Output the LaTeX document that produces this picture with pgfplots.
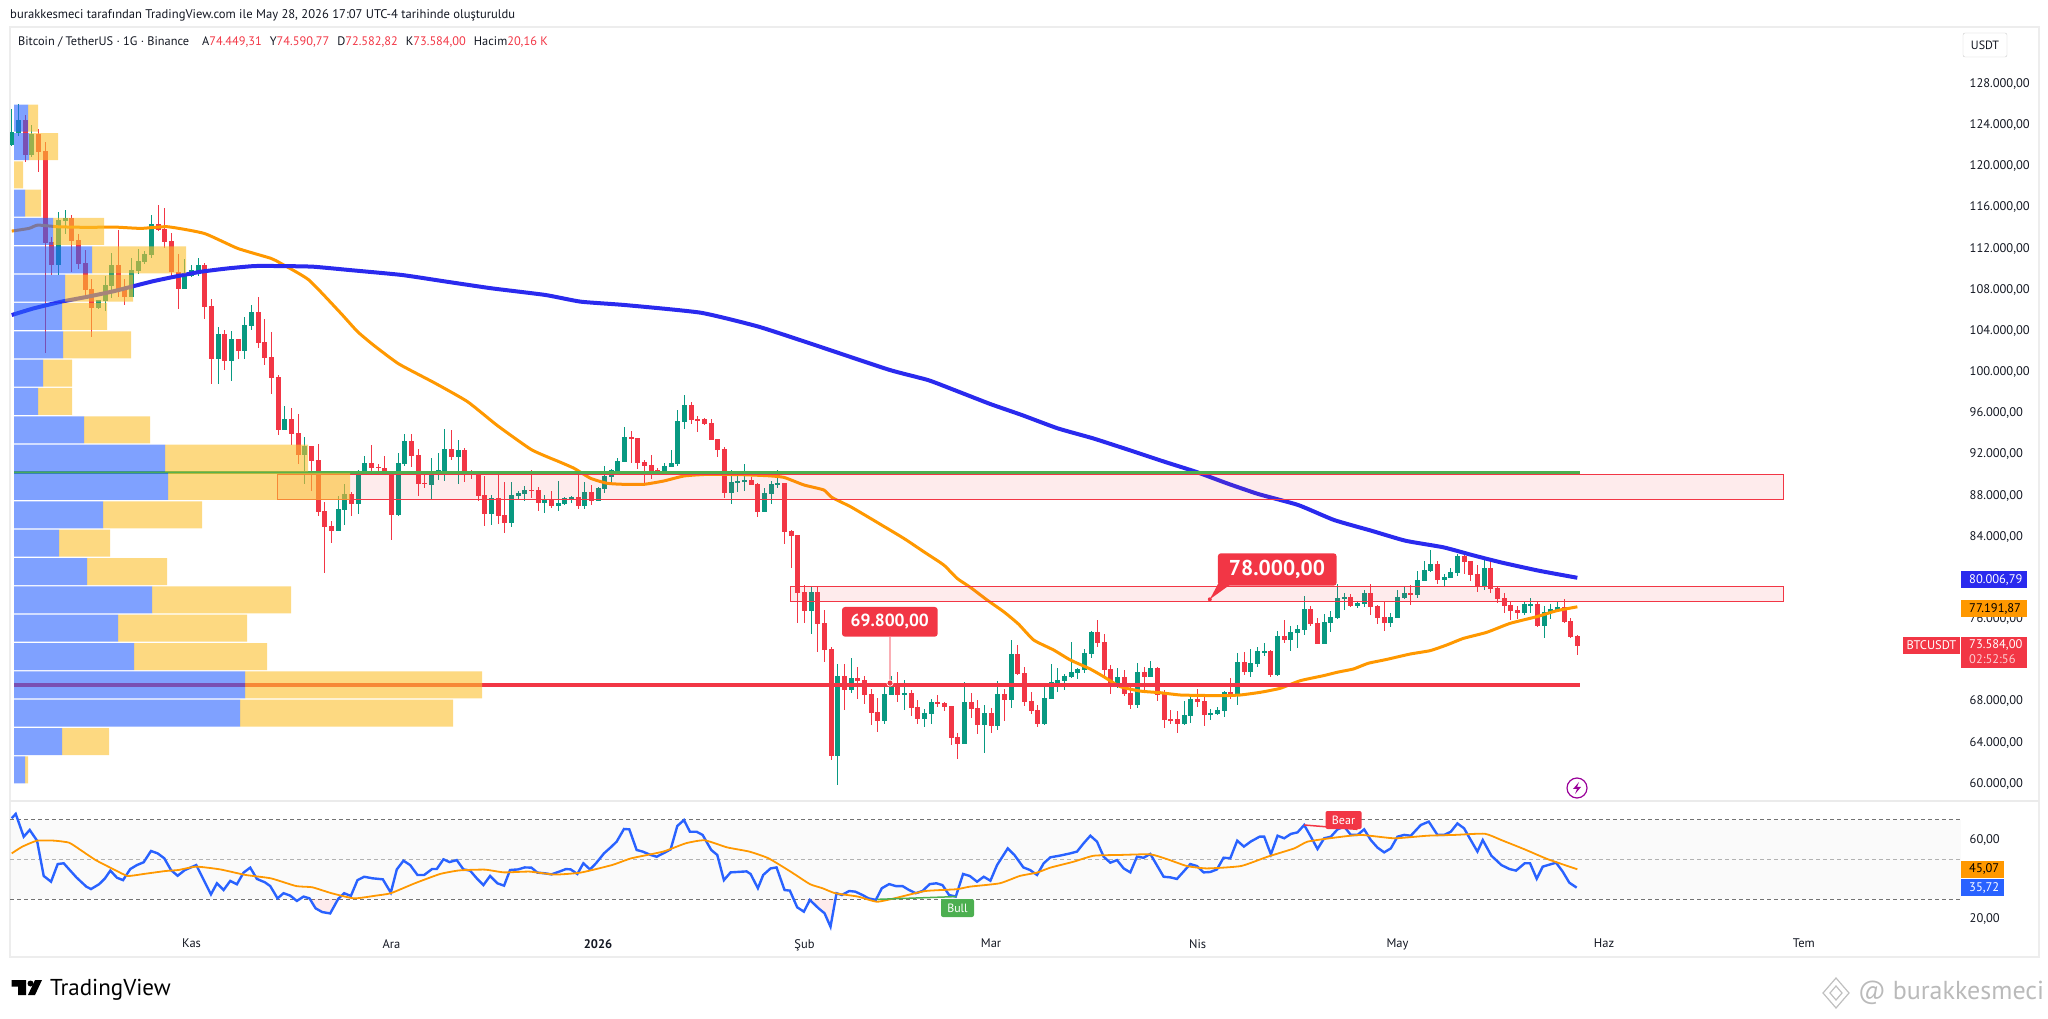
\documentclass[border=0pt]{standalone}
\usepackage{pgfplots}
\usepackage{pgfplotstable}
\usepackage{fontspec}
\pgfplotsset{compat=1.18}
\setmainfont{PT Sans}
\definecolor{cgreen}{HTML}{089981}
\definecolor{cred}{HTML}{F23645}
\definecolor{maor}{HTML}{FF9800}
\definecolor{mabl}{HTML}{2A2AEE}
\definecolor{rsibl}{HTML}{2962FF}
\definecolor{vpb}{RGB}{41,98,255}
\definecolor{vpo}{RGB}{251,192,45}
\definecolor{lgreen}{HTML}{4CAF50}
\definecolor{txt}{HTML}{131722}
\pgfplotstableread{
d o h l c
-88 122060 125560 121960 123320
-87 123260 126040 122930 124490
-86 124490 124970 120410 121090
-85 121090 124000 120890 123130
-84 123130 123610 119430 121380
-83 121470 122350 101850 112530
-82 112630 113120 109430 110400
-81 110400 115550 109430 114770
-80 114670 115740 113410 114960
-79 114960 115250 109720 112730
-78 112830 113410 110010 110490
-77 110590 111850 107390 107970
-76 108070 109040 103400 106220
-75 106220 107000 106120 107000
-74 106900 109330 105930 108450
-73 108360 111560 107190 110400
-72 110400 113800 107290 108070
-71 108160 109040 106510 107290
-70 107290 111080 107290 109910
-69 109810 111950 109520 110790
-68 110690 111760 110490 111470
-67 111370 115250 111080 114380
-66 114380 116230 113700 113800
-65 113900 115940 112050 112630
-64 112730 113510 109040 109720
-63 109720 111470 106120 108070
-62 108070 110980 108070 109430
-61 109330 110400 109230 109910
-60 109810 111080 109330 110400
-59 110400 110590 105150 106320
-58 106410 107090 98830 101260
-57 101260 104370 98830 103690
-56 103690 104080 100190 101070
-55 101070 103980 99120 103210
-54 103210 103210 101260 102040
-53 102040 105340 101260 104570
-52 104470 106510 104080 105830
-51 105830 107290 102330 102820
-50 102910 105150 100680 101360
-49 101460 103890 97860 99420
-48 99520 99720 93890 94370
-47 94370 96710 94370 95440
-46 95440 96510 92920 93990
-45 94080 95930 91070 91950
-44 91950 93690 89130 92820
-43 92820 92820 88450 91360
-42 91460 93010 86020 86410
-41 86500 87380 80480 84950
-40 85050 85530 83390 84560
-39 84560 87960 84560 86700
-38 86600 89130 85140 88160
-37 88160 88350 86020 87180
-36 87180 90490 86210 90000
-35 90000 91850 90000 91170
-34 91170 92920 90390 90680
-33 90780 91070 90390 90680
-32 90680 91850 90000 90160
-31 90160 90330 83690 86110
-30 86110 92140 86020 91170
-29 91070 93990 90880 93310
-28 93310 93990 90780 91850
-27 91950 92530 87960 89130
-26 89220 90000 88740 89130
-25 89030 91650 87670 90000
-24 90000 92140 89520 90490
-23 90360 94470 89420 92530
-22 92530 94370 91460 91750
-21 91750 93400 89130 92430
-20 92430 92630 89320 90290
-19 90360 90490 89610 90230
-18 90160 90260 87480 87960
-17 88060 89900 85050 86210
-16 86210 88060 85140 87770
-15 87770 90100 85240 86020
-14 86110 89320 84370 85340
-13 85340 89320 84950 88060
-12 87960 88450 87670 88250
-11 88160 88930 87480 88540
-10 88540 90490 87770 88450
-9 88540 88840 86500 87280
-8 87280 88060 86310 87570
-7 87630 88440 86790 86990
-6 86990 89400 86500 87280
-5 87180 87860 87080 87760
-4 87760 87960 87280 87860
-3 87860 90100 86700 86990
-2 86990 89320 86700 88350
-1 88350 89030 87080 87470
0 87470 88830 87470 88740
1 88640 90870 88250 89900
2 89800 90580 89220 90480
3 90160 91650 90160 91360
4 91260 94660 91260 93690
5 93690 94270 91160 93500
6 93590 93590 90580 91160
7 91260 91460 89220 90870
8 90970 91940 89610 90260
9 90480 90680 90060 90160
10 90320 91160 90230 90870
11 90780 92430 90780 91160
12 91070 96310 90870 95250
13 95150 97770 94470 96800
14 96800 97090 94950 95340
15 95440 95730 94180 95340
16 95440 95540 94860 94950
17 95050 95440 93400 93400
18 93500 93500 91750 92430
19 92530 92720 87760 88250
20 88250 90480 87180 89320
21 89290 90100 88350 89400
22 89400 91070 88440 89510
23 89510 89800 89030 89030
24 89120 89220 85920 86400
25 86400 88740 86400 88250
26 88150 89400 87180 89120
27 89120 90480 88740 89220
28 89220 89220 83290 84460
29 84560 84650 80960 84070
30 84160 84160 75610 78530
31 78630 79310 75610 76780
32 76780 79110 74540 78630
33 78630 79110 72800 75520
34 75610 76880 71820 73000
35 73090 73280 62300 62690
36 62690 71630 59870 70460
37 70460 71630 67160 69100
38 69100 72210 68810 70270
39 70270 71340 68230 69980
40 70070 70460 67740 68620
41 68710 69200 65700 66870
42 66960 68320 65020 66090
43 66090 69490 65800 68710
44 68620 70460 68620 69390
45 69390 70850 67940 68620
46 68710 70070 67160 68810
47 68810 69100 66580 67350
48 67450 68130 65800 66280
49 66280 67260 65510 66870
50 66770 68230 65800 67940
51 67940 68620 67450 67840
52 67840 67940 67060 67450
53 67550 67550 63760 64440
54 64540 64920 62400 63860
55 63860 69880 63860 67940
56 67940 68810 66380 67260
57 67350 68130 64830 65700
58 65700 67640 62980 66870
59 66870 67350 64920 65600
60 65600 69980 65220 68710
61 68710 69200 66090 68130
62 68130 73960 67350 72600
63 72600 73480 70560 70660
64 70750 71340 67550 67940
65 68030 68910 66770 67060
66 67160 67640 65510 65800
67 65800 69590 65700 68320
68 68230 71630 68230 69880
69 69780 71240 68910 70070
70 69980 70660 69100 70460
71 70370 73770 70270 70850
72 70750 71240 70170 71140
73 71050 73090 70750 72700
74 72600 74840 72210 74740
75 74740 75900 73280 73670
76 73770 74540 70370 71050
77 71140 71530 68710 69590
78 69590 71240 69300 70370
79 70370 71050 68520 68710
80 68810 69390 67260 67650
81 67650 71730 67350 70850
82 70850 71340 68810 70370
83 70370 71920 70370 71240
84 71240 71340 68030 68620
85 68710 69100 65410 66190
86 66280 67160 65800 66190
87 66280 67060 64920 65800
88 65800 68030 65700 66670
89 66580 68520 65900 68230
90 68230 69200 67450 67940
91 68030 68520 65600 66670
92 66770 67260 66190 66870
93 66770 67450 66670 67160
94 67060 69000 66480 68910
95 68910 70270 68230 68620
96 68620 72700 67650 71820
97 71820 72800 70560 70850
98 70850 73090 70370 71730
99 71630 73280 71340 72890
100 72800 73670 72410 72890
101 72890 72990 70370 70560
102 70560 74840 70460 74350
103 74350 75900 73670 73960
104 73960 75320 72890 74740
105 74640 75420 73180 75030
106 74930 78240 74450 76970
107 76970 77270 75320 75520
108 75610 76100 73570 73570
109 73570 76490 73570 75710
110 75610 76780 74740 76200
111 76100 79400 76000 78040
112 78040 78530 76880 78140
113 78140 78430 77170 77270
114 77270 77660 77070 77560
115 77460 78820 77170 78530
116 78530 79400 76390 77170
117 77270 77360 75520 76100
118 76200 77750 74840 75610
119 75610 76590 75230 76200
120 76100 78820 76100 78140
121 78040 79110 77950 78530
122 78530 79310 77360 78340
123 78340 80670 78040 79790
124 79700 81640 79700 80760
125 80670 82710 80570 81350
126 81350 81640 79400 79790
127 79790 80380 79210 80080
128 79990 80960 79990 80570
129 80470 82320 80180 82130
130 82130 82320 80380 81540
131 81640 81640 79700 80280
132 80380 81250 78630 79210
133 79210 81830 78820 80960
134 80960 81540 78530 78920
135 79020 79110 77560 77950
136 78040 78530 76590 77270
137 77360 77660 75910 76780
138 76880 77270 76000 76590
139 76590 77660 76390 77460
140 77360 78040 76590 77460
141 77460 77660 75230 75320
142 75320 77270 74160 76680
143 76590 77460 76000 76970
144 76880 77660 76880 77170
145 77170 77950 75610 75710
146 75810 76100 74160 74250
147 74350 74450 72500 73380
}\candles
\pgfplotsset{
 cstyle/.style 2 args={draw=none,forget plot,error bars/.cd,y dir=both,y explicit,error mark=none,error bar style={#1,line width=#2}},
 nolines/.style={axis line style={draw=none},tick style={draw=none},major tick length=0pt,scale only axis,enlargelimits=false,clip=true},
}
\begin{document}
\begin{tikzpicture}[x=1pt,y=1pt,inner sep=0pt]
\path[use as bounding box] (0,0) rectangle (2048,1018);
% frame
\draw[line width=2pt,color=black!7] (10,61) rectangle (2039,991);
\draw[line width=1.5pt,color=black!8] (10,217) -- (2039,217);
% price pane
\begin{axis}[at={(10pt,217pt)},anchor=south west,width=1951pt,height=774pt,nolines,
 xmin=-88.26,xmax=204.59,ymin=58320,ymax=133530,xtick=\empty,
 ytick={60000,64000,68000,76000,84000,88000,92000,96000,100000,104000,108000,112000,116000,120000,124000,128000},yticklabel pos=right,scaled y ticks=false,
 yticklabel style={anchor=west,xshift=8.5pt,font=\fontsize{12.5}{14}\selectfont,text=txt,
  /pgf/number format/.cd,fixed,fixed zerofill,precision=2,1000 sep={.},dec sep={,},assume math mode=true}]
\addplot[cstyle={cgreen}{1pt}] table[x expr={\thisrow{c}>=\thisrow{o}?\thisrow{d}:nan},y expr={(\thisrow{h}+\thisrow{l})/2},y error expr={(\thisrow{h}-\thisrow{l})/2}] {\candles};
\addplot[cstyle={cred}{1pt}] table[x expr={\thisrow{c}>=\thisrow{o}?nan:\thisrow{d}},y expr={(\thisrow{h}+\thisrow{l})/2},y error expr={(\thisrow{h}-\thisrow{l})/2}] {\candles};
\addplot[cstyle={cgreen}{5pt}] table[x expr={\thisrow{c}>=\thisrow{o}?\thisrow{d}:nan},y expr={(\thisrow{o}+\thisrow{c})/2},y error expr={abs(\thisrow{o}-\thisrow{c})/2}] {\candles};
\addplot[cstyle={cred}{5pt}] table[x expr={\thisrow{c}>=\thisrow{o}?nan:\thisrow{d}},y expr={(\thisrow{o}+\thisrow{c})/2},y error expr={abs(\thisrow{o}-\thisrow{c})/2}] {\candles};
% orange moving average
\addplot[color=maor,line width=3pt,smooth,tension=0.3,mark=none] coordinates {
(-88,113700)(-85.4,113960)(-84.1,114280)(-81.1,114120)(-76.6,114060)(-72.6,114090)(-68.6,113960)(-64.6,114120)(-59.1,113470)(-54.1,112020)(-49.1,111050)(-47.6,110560)(-43.4,108950)(-38.6,105710)(-36.1,103930)(-33.6,102570)(-29.9,100790)(-24.6,98970)(-19.6,97130)(-15.1,94800)(-10.1,92500)(-7.1,91620)(-6.1,91360)(-3.6,90650)(-1.1,89670)(1.4,89190)(3.9,89090)(6.9,89090)(9.9,89420)(12.9,89900)(16.4,90060)(21.4,90030)(25.4,89930)(27.9,89770)(30.9,89030)(33.9,88540)(35.1,87820)(37.9,86920)(40.9,85780)(45.9,83840)(48.9,82540)(51.9,81250)(53.9,79950)(55.9,79080)(58.4,77850)(60.9,76710)(63.1,75520)(65.4,73960)(68.4,72990)(70.9,72020)(73.9,71140)(75.9,70400)(78.4,69430)(81.4,69000)(84.4,68840)(87.4,68620)(90.4,68580)(93.4,68550)(96.4,68620)(99.4,68880)(102.4,69270)(105.4,70010)(108.9,70500)(111.1,70850)(113.4,71150)(115.6,71700)(118.4,72080)(121.9,72600)(124.9,72930)(127.4,73480)(129.9,74120)(133.4,74710)(136.9,75580)(140.9,76230)(143.9,76810)(147,77190)};
% blue moving average
\addplot[color=mabl,line width=4pt,smooth,tension=0.3,mark=none] coordinates {
(-88,105540)(-84.7,106190)(-80.6,106830)(-76.6,107320)(-72.6,107870)(-67.1,108780)(-63.6,109260)(-59.6,109750)(-55.6,110070)(-51.6,110300)(-47.6,110300)(-42.8,110240)(-37.4,109920)(-29.4,109430)(-22.7,108780)(-16,108140)(-7.9,107490)(-2.6,106840)(4.1,106510)(15.4,105770)(24,104430)(31.9,102770)(43.6,100240)(49.5,99230)(53.5,98250)(58.9,96890)(63.6,95830)(69,94530)(74.3,93560)(79.7,92430)(85,91290)(89.7,90320)(94.4,89190)(99.1,88150)(105.1,87080)(110.5,85620)(116.1,84580)(121.2,83610)(126.9,82970)(131.2,82220)(135.5,81510)(141.2,80700)(147,80010)};
% zones
\addplot[draw=cred,line width=1pt,fill=cred,fill opacity=0.1,mark=none] coordinates {(-48.1,90060)(178,90060)(178,87630)(-48.1,87630)} -- cycle;
\addplot[draw=cred,line width=1pt,fill=cred,fill opacity=0.1,mark=none] coordinates {(28.9,79140)(178,79140)(178,77690)(28.9,77690)} -- cycle;
% levels
\addplot[color=lgreen,line width=3.5pt,mark=none] coordinates {(-87.6,90260)(147.4,90260)};
\addplot[color=cred,line width=4pt,mark=none] coordinates {(-87.6,69590)(147.4,69590)};
\end{axis}
% volume profile
\begin{axis}[at={(14pt,217pt)},anchor=south west,width=1947pt,height=774pt,hide axis,scale only axis,
 xmin=0,xmax=1947,ymin=58320,ymax=133530,xbar stacked,bar width=27pt]
\addplot[draw=none,fill=vpb,fill opacity=0.6] coordinates {
(11,61350)(48,64100)(226,66850)(231,69610)(120,72360)(104,75110)(138,77870)(73,80620)(45,83370)(89,86130)(154,88880)(151,91630)(70,94380)(24,97140)(29,99890)(49,102640)(48,105400)(51,108150)(78,110900)(39,113660)(11,116410)(0,119160)(15,121910)(14,124670)};
\addplot[draw=none,fill=vpo,fill opacity=0.6] coordinates {
(3,61350)(47,64100)(213,66850)(237,69610)(133,72360)(129,75110)(139,77870)(80,80620)(51,83370)(99,86130)(182,88880)(143,91630)(66,94380)(34,97140)(29,99890)(68,102640)(45,105400)(68,108150)(94,110900)(51,113660)(16,116410)(9,119160)(29,121910)(10,124670)};
\end{axis}
% oscillator pane
\begin{axis}[at={(10pt,61pt)},anchor=south west,width=1951pt,height=156pt,nolines,
 xmin=-88.26,xmax=204.59,ymin=0.83,ymax=79.5,
 xtick={-61,-31,0,31,59,90,120,151,181},
 xticklabels={Kas,Ara,\textbf{2026},Şub,Mar,Nis,May,Haz,Tem},
 xticklabel style={yshift=18pt,font=\fontsize{12.5}{14}\selectfont,text=txt},
 ytick={20,60},yticklabel pos=right,
 yticklabel style={anchor=west,xshift=8.5pt,font=\fontsize{12.5}{14}\selectfont,text=txt,
  /pgf/number format/.cd,fixed,fixed zerofill,precision=2,dec sep={,},assume math mode=true}]
\addplot[draw=none,fill=black,fill opacity=0.02,mark=none] coordinates {(-88.26,30)(204.59,30)(204.59,70)(-88.26,70)} -- cycle;
\addplot[color=black!55,dash pattern=on 4pt off 3pt,line width=1pt,mark=none] coordinates {(-88.26,70)(204.59,70)};
\addplot[color=black!30,dash pattern=on 4pt off 3pt,line width=1pt,mark=none] coordinates {(-88.26,50)(204.59,50)};
\addplot[color=black!55,dash pattern=on 4pt off 3pt,line width=1pt,mark=none] coordinates {(-88.26,30)(204.59,30)};
\addplot[draw=none,fill=cred,fill opacity=0.1,mark=none] coordinates {(-43.3,30)(-42.4,25.4)(-41.4,23.5)(-40.2,22.8)(-39,30)} -- cycle;
\addplot[draw=none,fill=cred,fill opacity=0.1,mark=none] coordinates {(31,30)(33.1,25.4)(34,22.9)(34.9,16.1)(35.5,30)} -- cycle;
\addplot[color=rsibl,line width=2.4pt,mark=none] coordinates {
(-88,70.8)(-87.4,73)(-86.2,61.5)(-85.3,64.9)(-84.2,59.5)(-83.2,41.7)(-82.1,38.8)(-81.1,47.7)(-80.2,48.1)(-78.3,41)(-76.8,36.3)(-76.1,35.1)(-74.9,37.5)(-74,40.5)(-73.2,44.4)(-72.2,40.8)(-71.3,39.6)(-70.2,45.2)(-69.2,47.2)(-68.2,48.6)(-67.1,54.3)(-66.1,53.1)(-65.1,50.6)(-64.1,44.7)(-63.1,41.8)(-62,44.7)(-60.3,47.2)(-59.3,40.5)(-58.1,32.4)(-57.2,38)(-56.2,34.6)(-55.2,39.2)(-54.2,37.5)(-53.2,43.4)(-52.2,45.9)(-51.2,40.2)(-50,38.5)(-49.2,36.6)(-48.1,30.4)(-47.2,33)(-46.2,31.8)(-45.2,29.1)(-44.2,31.3)(-43.3,30.4)(-42.4,25.4)(-41.4,23.5)(-40.2,22.8)(-39,30.1)(-38.1,33)(-37.1,31.6)(-36.1,39.6)(-35.1,41.3)(-33.8,40.5)(-32.3,40)(-31.1,33.3)(-30.2,45)(-29.2,49.4)(-28.2,47.2)(-27.1,42.2)(-26.1,42.2)(-24.9,45.2)(-24.2,45.2)(-23.2,50.1)(-22.3,48.7)(-21.2,49.7)(-20.2,45)(-19.2,44.4)(-18.2,40.5)(-17.2,37.1)(-16.2,41.7)(-15.1,38)(-14.1,36.8)(-13.2,44.7)(-12,45)(-11,46)(-10,45.9)(-9.1,43.4)(-7.9,43)(-7,42.5)(-5.8,43.9)(-4.8,45.2)(-4.1,45)(-3.1,42.7)(-2.2,48.1)(-1.2,45)(-0.3,48.1)(0.9,53.1)(1.9,56.1)(2.8,59)(3.9,65.4)(4.7,65.2)(5.8,54.8)(6.7,54)(7.9,52.3)(8.8,51.4)(9.8,53.1)(10.9,55.1)(11.9,66.9)(12.9,69.9)(13.8,64)(14.8,64)(15.7,62.4)(17,54.8)(17.9,52.3)(18.9,39.6)(19.9,43.5)(22.3,44)(22.9,42.7)(24,35.5)(24.8,42.2)(25.9,45.5)(26.8,46)(28,34.6)(28.8,34.3)(29.9,25.9)(30.9,23.7)(31.8,29.6)(33.1,25.4)(34,22.9)(34.9,16.1)(35.8,33)(36.6,32.1)(37.7,34.1)(38.6,33.8)(39.7,32.1)(40.6,30.4)(41.7,29.6)(42.6,35.5)(43.7,37.6)(44.7,36.6)(45.7,36.6)(46.7,34.6)(47.7,33)(48.7,34.1)(49.8,37.6)(50.8,38)(51.7,37.1)(52.7,32.1)(53.7,31.3)(54.8,42.7)(55.8,41.7)(56.9,38.8)(57.9,41.3)(58.9,39.3)(59.9,47.2)(61.5,55.6)(62.5,52.3)(63.85,46)(64.85,44.7)(65.9,42.2)(66.9,48.1)(67.9,51.1)(69.4,52)(70.9,53.1)(71.9,54)(72.9,58.2)(73.9,62)(74.9,59)(75.9,51.4)(76.9,48.4)(77.9,49.7)(78.9,45.5)(79.9,43.5)(80.9,51.4)(81.9,50.9)(82.9,52.8)(84.9,41.3)(85.9,41)(86.9,40.2)(88.9,47.7)(89.9,46.7)(90.9,43.5)(91.9,43.7)(92.9,45)(93.9,50.9)(94.9,50.6)(95.95,59.5)(96.95,56.5)(97.95,59)(99.3,61.5)(100,61.5)(101,52.6)(102,62)(103,60.7)(104,62.9)(105,63.7)(106,67.4)(107,61.5)(108,55.3)(109,60.7)(110,61.5)(111,65.2)(112,66.6)(113,62.4)(114,62.4)(115,65.2)(116,59.8)(117,56)(118,53.6)(119,55.6)(120,61.5)(121,62.4)(122,62)(123.5,67.4)(124.7,69.1)(126,62.4)(127,62.4)(128,64)(129,68.2)(130,65.7)(131,59.8)(132,54)(132.8,59.8)(134.1,51.9)(135.6,47.2)(136.8,45.2)(137.8,44.4)(139.1,48.1)(139.9,48.1)(140.9,40.3)(141.8,46.4)(143.8,48.4)(144.8,43.9)(145.8,38.3)(146.9,35.8)};
\addplot[color=maor,line width=1.8pt,smooth,tension=0.3,mark=none] coordinates {
(-88,53.1)(-86.4,56.5)(-84.2,59.5)(-81.6,59.5)(-79.4,58.5)(-77.8,55.1)(-75.4,49.7)(-72.5,44.7)(-70.6,41.7)(-68.2,42.7)(-64.9,44.2)(-63,44.7)(-60.3,46.4)(-56.7,45)(-52.9,42.2)(-49.1,40.5)(-45.3,36.6)(-42.9,36)(-40,33)(-36.6,30.4)(-33.3,31.8)(-31.1,33)(-27.5,38)(-23.7,42.7)(-20.8,44.5)(-17,44.9)(-14.1,43.5)(-10.3,43.9)(-6.5,42.4)(-2.6,43.4)(2.1,47.2)(5,50.6)(9.8,54)(13.2,58.2)(16,59.7)(19.4,56.1)(22.7,54)(25.6,50.6)(28.9,43.9)(31.8,37.6)(33.7,35.5)(35.6,33)(39,31.3)(41.9,28.7)(45.2,31)(49.1,34.1)(53.8,35)(55.8,36.3)(60.3,38)(63.3,41.7)(65.9,43.4)(67.9,45.9)(71.4,48.9)(74.4,51.9)(78.4,52.3)(82.9,52.6)(85.4,50.2)(88.4,46.7)(91.4,45.5)(96.5,46.7)(100.5,51.4)(104.5,55.6)(106.5,59)(110.5,61)(114.5,62.4)(119.5,60.7)(124.5,62)(128.6,62.4)(133.1,63)(135.6,59.8)(139.1,55.1)(142.6,50.1)(147,45.07)};
\addplot[color=lgreen,line width=1.5pt,mark=none] coordinates {(41.9,29.9)(53.8,31.3)};
\addplot[color=cred,line width=1.5pt,mark=none] coordinates {(106,67.4)(114,65.2)};
\end{axis}
% header
\node[anchor=west,font=\fontsize{12.6}{15}\selectfont,text=txt] at (10,1003) {burakkesmeci tarafından TradingView.com ile May 28, 2026 17:07 UTC-4 tarihinde oluşturuldu};
\node[anchor=west,font=\fontsize{12.35}{15}\selectfont,text=txt] at (18,976) {Bitcoin / TetherUS · 1G · Binance\hspace{13pt}A\textcolor{cred}{74.449,31}\hspace{8pt}Y\textcolor{cred}{74.590,77}\hspace{8pt}D\textcolor{cred}{72.582,82}\hspace{8pt}K\textcolor{cred}{73.584,00}\hspace{8pt}Hacim\textcolor{cred}{20,16 K}};
% USDT
\draw[rounded corners=2pt,color=black!20,fill=white] (1963,961) rectangle (2007,985);
\node[font=\fontsize{12}{14}\selectfont,text=txt] at (1985,973) {USDT};
% price labels
\fill[mabl] (1961,430) rectangle (2027,447);
\node[anchor=west,font=\fontsize{12.5}{14}\selectfont,text=white] at (1969,438.5) {80.006,79};
\fill[maor] (1961,401) rectangle (2027,418);
\node[anchor=west,font=\fontsize{12.5}{14}\selectfont,text=black] at (1969,409.5) {77.191,87};
\fill[cred] (1903,364.3) rectangle (1960,381);
\node[font=\fontsize{12.5}{14}\selectfont,text=white] at (1931.5,372.6) {BTCUSDT};
\fill[cred] (1961,350.3) rectangle (2027,381);
\node[anchor=west,font=\fontsize{12.5}{14}\selectfont,text=white] at (1969,373.5) {73.584,00};
\node[anchor=west,font=\fontsize{12.5}{14}\selectfont,text=white!75!cred] at (1969,359) {02:52:56};
% oscillator labels
\fill[maor] (1961,140.3) rectangle (2004,157);
\node[anchor=west,font=\fontsize{12.5}{14}\selectfont,text=black] at (1969,148.6) {45,07};
\fill[rsibl] (1961,122) rectangle (2004,139);
\node[anchor=west,font=\fontsize{12.5}{14}\selectfont,text=white] at (1969,130.5) {35,72};
% bubbles
\draw[cred!40,line width=1.5pt] (890,381) -- (890,335);
\fill[cred] (890,335) circle (2.5pt);
\draw[white,line width=.6pt] (890,335) circle (3.2pt);
\fill[cred,rounded corners=3pt] (842,381.3) rectangle (937.7,411);
\node[font=\bfseries\fontsize{17.5}{19}\selectfont,text=white] at (889.8,396) {69.800,00};
\fill[cred] (1218,434) -- (1231,434) -- (1209.8,418.7) -- cycle;
\fill[cred] (1209.8,418.7) circle (2pt);
\fill[cred,rounded corners=3pt] (1217.9,432.3) rectangle (1336.6,464.7);
\node[font=\bfseries\fontsize{21.5}{23}\selectfont,text=white] at (1277,448.5) {78.000,00};
% bull / bear
\fill[lgreen,rounded corners=2pt] (941,101) rectangle (974,119);
\node[font=\fontsize{12}{14}\selectfont,text=white] at (957.5,110) {Bull};
\fill[cred,rounded corners=2pt] (1325.5,189) rectangle (1361.6,207);
\node[font=\fontsize{12}{14}\selectfont,text=white] at (1343.5,198) {Bear};
% bolt
\draw[color=violet!80!magenta,line width=1.2pt] (1577,230) circle (10pt);
\fill[color=violet!80!magenta] (1579,236) -- (1573,229) -- (1577,229) -- (1575,224) -- (1581,231) -- (1577,231) -- cycle;
% logo
\fill[black] (11.5,38) -- (26,38) -- (26,23) -- (18,23) -- (18,31.5) -- (11.5,31.5) -- cycle;
\fill[black] (30.5,34.5) circle (3pt);
\fill[black] (35,38) -- (42,38) -- (35,23) -- (28,23) -- cycle;
\node[anchor=west,font=\fontsize{23}{26}\selectfont,text=black] at (50,28) {TradingView};
% watermark
\draw[color=black!25,line width=1.2pt] (1836,40) -- (1849,25) -- (1836,10) -- (1823,25) -- cycle;
\draw[color=black!25,line width=1.2pt] (1836,32) -- (1842,25) -- (1836,18) -- (1830,25) -- cycle;
\node[anchor=west,font=\fontsize{26}{28}\selectfont,text=black!27] at (1858,25) {@ burakkesmeci};
\end{tikzpicture}
\end{document}
